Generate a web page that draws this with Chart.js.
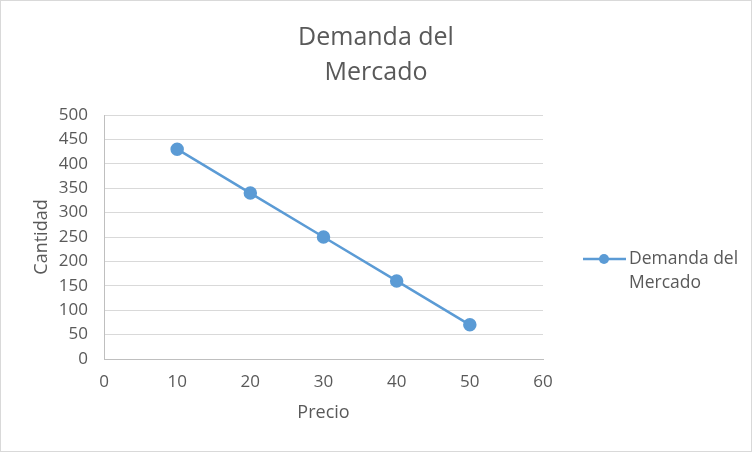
<!DOCTYPE html>
<html><head><meta charset="utf-8">
<script src="https://cdn.jsdelivr.net/npm/chart.js@4/dist/chart.umd.min.js"></script>
<style>
html,body{margin:0;padding:0;background:#fff;}
#wrap{position:relative;width:750px;height:450px;border:1px solid #d9d9d9;}
</style></head>
<body><div id="wrap"><canvas id="c" width="750" height="450"></canvas></div>
<script>
const precio = [10, 20, 30, 40, 50];
const cantidad = [430, 340, 250, 160, 70];
const seriesName = ['Demanda del', 'Mercado'];
const chartTitle = ['Demanda del', 'Mercado'];
const xTitle = 'Precio';
const yTitle = 'Cantidad';
const color = '#5b9bd5';
const textColor = '#595959';
const fontFam = "'Open Sans', 'Noto Sans', sans-serif";

const decorPlugin = {
  id: 'decor',
  afterDraw(chart) {
    const ctx = chart.ctx;
    ctx.save();
    // title
    ctx.fillStyle = textColor;
    ctx.font = "25px " + fontFam;
    ctx.textAlign = 'center';
    ctx.textBaseline = 'middle';
    chartTitle.forEach((t, i) => ctx.fillText(t, 375, 37 + i * 35));
    // legend
    const x0 = 582, y0 = 258;
    ctx.strokeStyle = color; ctx.lineWidth = 2.5;
    ctx.beginPath(); ctx.moveTo(x0, y0); ctx.lineTo(x0 + 43, y0); ctx.stroke();
    ctx.fillStyle = color;
    ctx.beginPath(); ctx.arc(x0 + 21, y0, 5, 0, Math.PI * 2); ctx.fill();
    ctx.fillStyle = textColor;
    ctx.font = "17.5px " + fontFam;
    ctx.textAlign = 'left';
    seriesName.forEach((t, i) => ctx.fillText(t, x0 + 46, y0 + i * 24));
    ctx.restore();
  }
};

new Chart(document.getElementById('c'), {
  type: 'scatter',
  data: {
    datasets: [{
      label: seriesName.join(' '),
      data: precio.map((p, i) => ({x: p, y: cantidad[i]})),
      showLine: true,
      borderColor: color,
      backgroundColor: color,
      borderWidth: 2.5,
      pointRadius: 5.5,
      pointHoverRadius: 5.5
    }]
  },
  options: {
    responsive: false,
    animation: false,
    devicePixelRatio: 1,
    layout: {padding: {left: 30, right: 208, top: 114, bottom: 27}},
    plugins: {
      legend: {display: false},
      tooltip: {enabled: false},
      title: {display: false}
    },
    scales: {
      x: {
        type: 'linear', min: 0, max: 60,
        ticks: {stepSize: 10, color: textColor, font: {family: fontFam, size: 17}, padding: 13},
        grid: {display: false, drawTicks: false},
        border: {display: true, color: '#bfbfbf', width: 1},
        title: {display: true, text: xTitle, color: textColor, font: {family: fontFam, size: 18}, padding: {top: 6, bottom: 0}},
        afterFit(s) { s.height = 65; }
      },
      y: {
        min: 0, max: 500,
        ticks: {stepSize: 50, color: textColor, font: {family: fontFam, size: 17}, padding: 16},
        grid: {color: '#d9d9d9', drawTicks: false},
        border: {display: true, color: '#bfbfbf', width: 1},
        title: {display: true, text: yTitle, color: textColor, font: {family: fontFam, size: 18}, padding: {top: 0, bottom: 4}},
        afterFit(s) { s.width = 73; }
      }
    }
  },
  plugins: [decorPlugin]
});
</script></body></html>
